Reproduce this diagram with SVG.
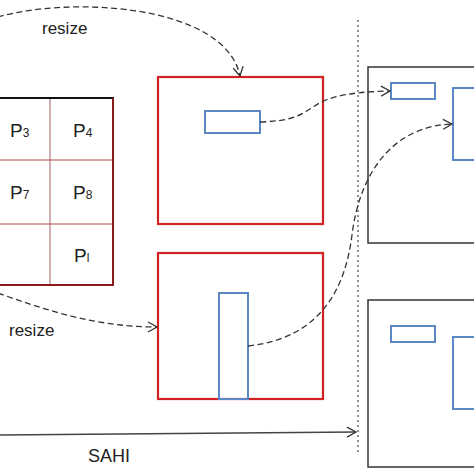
<svg xmlns="http://www.w3.org/2000/svg" width="474" height="474" viewBox="0 0 474 474">
<style>
.lbl{font-family:"Liberation Sans",Arial,sans-serif;fill:#222}
.red{fill:none;stroke:#d02222;stroke-width:2.2}
.blue{fill:none;stroke:#5b87c5;stroke-width:2}
.blk{fill:none;stroke:#333;stroke-width:1.5}
.dash{fill:none;stroke:#333;stroke-width:1.3;stroke-dasharray:6,3.5}
</style>
<defs>
<marker id="ah" markerWidth="12" markerHeight="12" refX="10" refY="6" orient="auto" markerUnits="userSpaceOnUse">
<path d="M1,1 L10,6 L1,11" fill="none" stroke="#333" stroke-width="1.3"/>
</marker>
</defs>
<rect width="474" height="474" fill="#fff"/>
<g id="grid">
<line x1="0" y1="160" x2="113" y2="160" stroke="#b04545" stroke-width="1"/>
<line x1="0" y1="224" x2="113" y2="224" stroke="#b04545" stroke-width="1"/>
<line x1="50" y1="98" x2="50" y2="285" stroke="#a06060" stroke-width="1"/>
<line x1="-2" y1="98" x2="114" y2="98" stroke="#111" stroke-width="2"/>
<line x1="113" y1="98" x2="113" y2="285" stroke="#8b1a1a" stroke-width="2"/>
<line x1="-2" y1="285" x2="114" y2="285" stroke="#8b1a1a" stroke-width="2"/>
<text class="lbl" x="10" y="137" font-size="19">P<tspan font-size="12">3</tspan></text>
<text class="lbl" x="73" y="137" font-size="19">P<tspan font-size="12">4</tspan></text>
<text class="lbl" x="10" y="199" font-size="19">P<tspan font-size="12">7</tspan></text>
<text class="lbl" x="73" y="199" font-size="19">P<tspan font-size="12">8</tspan></text>
<text class="lbl" x="74" y="262" font-size="19">P<tspan font-size="12">l</tspan></text>
</g>
<g id="box1">
<rect class="red" x="158" y="77" width="165" height="147"/>
<rect class="blue" x="205" y="111" width="55" height="22"/>
</g>
<g id="box2">
<rect class="red" x="158" y="253" width="165" height="146"/>
<rect class="blue" x="219" y="293" width="29" height="106"/>
</g>
<g id="out1">
<rect class="blk" x="368" y="67" width="120" height="176"/>
<rect class="blue" x="391" y="83" width="44" height="16"/>
<rect class="blue" x="453" y="88" width="40" height="72"/>
</g>
<g id="out2">
<rect class="blk" x="368" y="300" width="120" height="167"/>
<rect class="blue" x="391" y="326" width="44" height="16"/>
<rect class="blue" x="453" y="337" width="40" height="72"/>
</g>
<g id="connectors">
<line x1="358" y1="20" x2="358" y2="453" stroke="#555" stroke-width="1.3" stroke-dasharray="2,3"/>
<path class="dash" d="M-2,17 C70,-4 225,4 240,76" marker-end="url(#ah)"/>
<path class="dash" d="M-2,293 C50,312 100,327 157,327" marker-end="url(#ah)"/>
<path class="dash" d="M260,122 C330,120 290,93 390,91" marker-end="url(#ah)"/>
<path class="dash" d="M248,346 C320,338 345,290 352,235 C360,170 395,126 452,124" marker-end="url(#ah)"/>
<line x1="-2" y1="435" x2="356" y2="432" stroke="#444" stroke-width="1.5" marker-end="url(#ah)"/>
<text class="lbl" x="42" y="34" font-size="17">resize</text>
<text class="lbl" x="9" y="336" font-size="17">resize</text>
<text class="lbl" x="88" y="462" font-size="18">SAHI</text>
</g>
</svg>
